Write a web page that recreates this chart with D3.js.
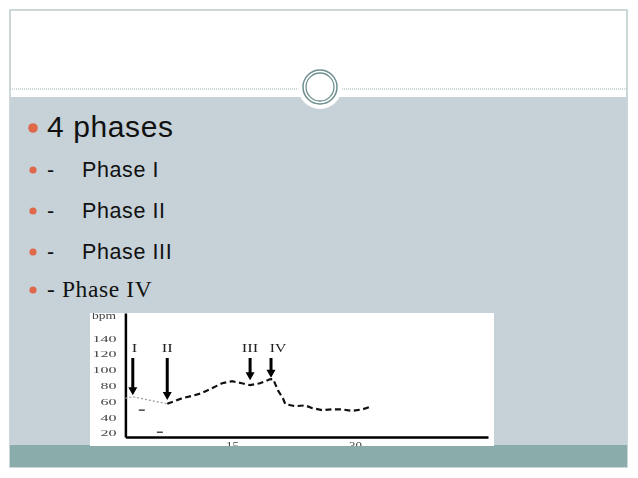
<!DOCTYPE html>
<html>
<head>
<meta charset="utf-8">
<script src="https://cdn.jsdelivr.net/npm/d3@7"></script>
<style>
  body { margin: 0; background: #fff; }
  #slide { position: absolute; left: 0; top: 0; }
  #chart { position: absolute; left: 90px; top: 313px; overflow: hidden; }
</style>
</head>
<body>
<svg id="slide" width="638" height="478"></svg>
<svg id="chart" width="404" height="133"></svg>
<script>
// slide text
var bulletLines = ["4 phases", "-", "-", "-", "- Phase IV"]
var bulletWords = ["", "Phase I", "Phase II", "Phase III", ""]

// heart rate trace (minutes, bpm)
var restTime = [2, 2.9, 7.1]
var restBpm = [64, 66, 57]
var traceTime = [7.1, 8.9, 10.1, 11.3, 12.6, 13.8, 15, 16.2, 17.2, 18.4, 19.6, 20, 20.6, 21.2, 21.5, 22.7, 23.9, 24.8, 26, 27.2, 28.4, 29.6, 30.9, 31.8]
var traceBpm = [57, 64, 67, 70.5, 77, 83, 85.6, 83, 80.6, 83, 88, 88.5, 74, 64, 56.6, 54, 55, 51.5, 49, 50, 50, 48, 50, 53]

// phase arrows
var phaseLabels = ["I", "II", "III", "IV"]
var phaseTime = [2.9, 7.1, 17.2, 19.75]
var phaseLabelTime = [3.1, 7.1, 17.2, 20.6]
var phaseTipBpm = [68, 62, 87, 90]

// stray specks in the scan
var speckTime = [4.0, 6.2]
var speckBpm = [49, 21]

var yTicks = [20, 40, 60, 80, 100, 120, 140]
var xTicks = [15, 30]

// the scanned figure is stretched sideways, so glyphs are wider than normal
var glyphW = 8
var romanW = {"I": 5.5, "V": 11}

// ---------- slide ----------
var slide = d3.select("#slide")

slide.append("rect")
  .attr("x", 10).attr("y", 10).attr("width", 617).attr("height", 457)
  .attr("fill", "#fff").attr("stroke", "#bccccc").attr("stroke-width", 1.5)

slide.append("rect")
  .attr("x", 10).attr("y", 97).attr("width", 617).attr("height", 348)
  .attr("fill", "#c6d2d8")

slide.append("rect")
  .attr("x", 10).attr("y", 445).attr("width", 617).attr("height", 22)
  .attr("fill", "#8aacab")

slide.append("line")
  .attr("x1", 10).attr("x2", 627).attr("y1", 89).attr("y2", 89)
  .attr("stroke", "#9fb3b3").attr("stroke-width", 1).attr("stroke-dasharray", "1,1")

slide.append("circle").attr("cx", 320).attr("cy", 87).attr("r", 22).attr("fill", "#fff")
slide.append("circle").attr("cx", 320).attr("cy", 87).attr("r", 17)
  .attr("fill", "#fff").attr("stroke", "#6f8f8f").attr("stroke-width", 1.5)
slide.append("circle").attr("cx", 320).attr("cy", 87).attr("r", 14)
  .attr("fill", "#fff").attr("stroke", "#6f8f8f").attr("stroke-width", 1.3)

var rowY = [137, 177, 218, 259, 297]
var rows = slide.selectAll("g.row")
  .data(bulletLines)
  .enter()
  .append("g")
  .attr("class", "row")

rows.append("circle")
  .attr("cx", 33)
  .attr("cy", function(d, i) { return i == 0 ? rowY[i] - 9 : rowY[i] - 7; })
  .attr("r", function(d, i) { return i == 0 ? 4.8 : 3.6; })
  .attr("fill", "#e0694b")

rows.append("text")
  .attr("x", 47)
  .attr("y", function(d, i) { return rowY[i]; })
  .attr("font-family", function(d, i) { return i == 4 ? "Liberation Serif" : "Liberation Sans"; })
  .attr("font-size", function(d, i) { return i == 0 ? 30 : (i == 4 ? 23.5 : 21.5); })
  .attr("letter-spacing", "0.6px")
  .attr("fill", "#111")
  .text(function(d) { return d; })

rows.append("text")
  .attr("x", 82)
  .attr("y", function(d, i) { return rowY[i]; })
  .attr("font-family", "Liberation Sans")
  .attr("font-size", 21.5)
  .attr("letter-spacing", "0.6px")
  .attr("fill", "#111")
  .text(function(d, i) { return bulletWords[i]; })

// ---------- chart ----------
var svg = d3.select("#chart")

svg.append("rect").attr("width", 404).attr("height", 133).attr("fill", "#fff")

var x = d3.scaleLinear().domain([2, 46.2]).range([35.4, 398])
var y = d3.scaleLinear().domain([15, 172]).range([124, 0])

var g = svg.append("g").style("filter", "blur(0.4px)")

var yAxis = g.append("g")
  .attr("transform", "translate(" + x(2) + ",0)")
  .call(d3.axisLeft(y).tickValues(yTicks).tickSize(0).tickPadding(9))
yAxis.select(".domain").attr("stroke", "#000").attr("stroke-width", 2.5)
yAxis.selectAll("text")
  .attr("font-family", "Liberation Serif").attr("font-size", 9).attr("fill", "#444")
  .attr("textLength", function(d) { return String(d).length * glyphW; })
  .attr("lengthAdjust", "spacingAndGlyphs")

var xAxis = g.append("g")
  .attr("transform", "translate(0," + y(15) + ")")
  .call(d3.axisBottom(x).tickValues(xTicks).tickSize(0).tickPadding(5))
xAxis.select(".domain").attr("stroke", "#000").attr("stroke-width", 2.5)
xAxis.selectAll("text")
  .attr("font-family", "Liberation Serif").attr("font-size", 10).attr("fill", "#444")
  .attr("textLength", function(d) { return String(d).length * 6.5; })
  .attr("lengthAdjust", "spacingAndGlyphs")

g.append("text")
  .attr("x", 2).attr("y", 6)
  .attr("font-family", "Liberation Serif").attr("font-size", 10).attr("fill", "#444")
  .attr("textLength", 24).attr("lengthAdjust", "spacingAndGlyphs")
  .text("bpm")

var line = d3.line()
  .x(function(d) { return x(d[0]); })
  .y(function(d) { return y(d[1]); })

g.append("path")
  .datum(d3.zip(restTime, restBpm))
  .attr("d", line)
  .attr("fill", "none")
  .attr("stroke", "#9a9a9a")
  .attr("stroke-width", 1.2)
  .attr("stroke-dasharray", "2,2")

g.append("path")
  .datum(d3.zip(traceTime, traceBpm))
  .attr("d", line)
  .attr("fill", "none")
  .attr("stroke", "#111")
  .attr("stroke-width", 2.2)
  .attr("stroke-dasharray", "6,3.5")

g.selectAll("line.speck")
  .data(d3.zip(speckTime, speckBpm))
  .enter()
  .append("line")
  .attr("class", "speck")
  .attr("x1", function(d) { return x(d[0]) - 3; })
  .attr("x2", function(d) { return x(d[0]) + 3; })
  .attr("y1", function(d) { return y(d[1]); })
  .attr("y2", function(d) { return y(d[1]); })
  .attr("stroke", "#444")
  .attr("stroke-width", 1.5)

var arrows = g.selectAll("g.arrow")
  .data(phaseLabels)
  .enter()
  .append("g")
  .attr("class", "arrow")

arrows.append("line")
  .attr("x1", function(d, i) { return x(phaseTime[i]); })
  .attr("x2", function(d, i) { return x(phaseTime[i]); })
  .attr("y1", y(115))
  .attr("y2", function(d, i) { return y(phaseTipBpm[i]) - 6; })
  .attr("stroke", "#000")
  .attr("stroke-width", 3)

arrows.append("path")
  .attr("d", function(d, i) {
    var ax = x(phaseTime[i]), ay = y(phaseTipBpm[i])
    return "M" + (ax - 4.5) + "," + (ay - 8) + "L" + (ax + 4.5) + "," + (ay - 8) + "L" + ax + "," + ay + "Z"
  })
  .attr("fill", "#000")

arrows.append("text")
  .attr("x", function(d, i) { return x(phaseLabelTime[i]); })
  .attr("y", y(123))
  .attr("text-anchor", "middle")
  .attr("font-family", "Liberation Serif")
  .attr("font-size", 12)
  .attr("fill", "#222")
  .attr("textLength", function(d) { return d3.sum(d.split(""), function(c) { return romanW[c]; }); })
  .attr("lengthAdjust", "spacingAndGlyphs")
  .text(function(d) { return d; })
</script>
</body>
</html>
